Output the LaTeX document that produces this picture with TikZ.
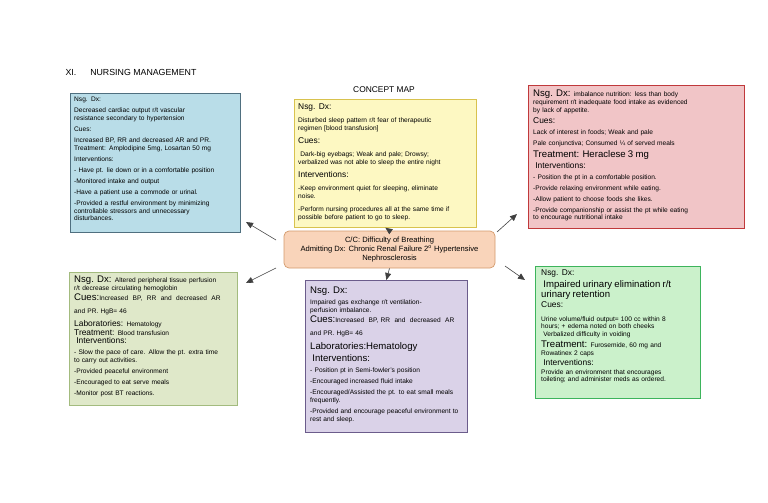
\documentclass[tikz,border=0pt]{standalone}
\usepackage{fontspec}
\setmainfont{Liberation Sans}
\usetikzlibrary{arrows.meta}
\definecolor{bluef}{HTML}{B9DDE8}\definecolor{blued}{HTML}{4F6F7F}
\definecolor{yelf}{HTML}{FDF8C2}\definecolor{yeld}{HTML}{D8C24E}
\definecolor{redf}{HTML}{F1C5C7}\definecolor{redd}{HTML}{C0393B}
\definecolor{orf}{HTML}{F9D4BA}\definecolor{ord}{HTML}{D49A6C}
\definecolor{glf}{HTML}{DFE8C9}\definecolor{gld}{HTML}{A3BB7E}
\definecolor{puf}{HTML}{DAD2E8}\definecolor{pud}{HTML}{6B5C8B}
\definecolor{grf}{HTML}{CBF1CB}\definecolor{grd}{HTML}{3DB45C}
\newcommand{\sm}{\fontsize{6.6}{7.8}\selectfont}
\newcommand{\hd}{\fontsize{8.4}{7.8}\selectfont}
\newcommand{\hb}{\fontsize{9.6}{7.8}\selectfont}
\newcommand{\ps}{\\[3.2pt]}
\newcommand{\py}{\\[5.2pt]}
\tikzset{x=1pt,y=-1pt,
 box/.style={draw=#1d,fill=#1f,line width=0.7pt,anchor=north west,inner sep=0pt},
 txt/.style={anchor=north west,align=left,inner sep=0pt,font=\sm},
 arr/.style={-{Triangle[length=7pt,width=6pt]},line width=0.6pt,black!75}}
\begin{document}
\begin{tikzpicture}
\useasboundingbox (0,0) rectangle (768,503);
\node[anchor=west,font=\fontsize{8.8}{9}\selectfont] (title) at (62,72) {XI.\hspace{14pt}NURSING MANAGEMENT};
\node[font=\fontsize{8.4}{9}\selectfont] (cm) at (384,90) {CONCEPT MAP};
% blue
\node[box=blue,minimum width=170pt,minimum height=139pt] (b1) at (70,93) {};
\node[txt,text width=167pt] (t1) at (74,97) {Nsg. Dx:\ps
Decreased cardiac output r/t vascular\\ resistance secondary to hypertension\ps
Cues:\ps
Increased BP, RR and decreased AR and PR.\\
Treatment: Amplodipine 5mg, Losartan 50 mg\ps
Interventions:\ps
- Have pt. lie down or in a comfortable position\ps
-Monitored intake and output\ps
-Have a patient use a commode or urinal.\ps
-Provided a restful environment by minimizing\\ controllable stressors and unnecessary\\ disturbances.};
% yellow
\node[box=yel,minimum width=182pt,minimum height=128pt] (b2) at (294,99) {};
\node[txt,text width=180pt] (t2) at (298,104) {{\hd Nsg. Dx:}\py
Disturbed sleep pattern r/t fear of therapeutic\\ regimen [blood transfusion]\py
{\hd Cues:}\py
\ Dark-big eyebags; Weak and pale; Drowsy;\\ verbalized was not able to sleep the entire night\py
{\hd Interventions:}\py
-Keep environment quiet for sleeping, eliminate\\ noise.\py
-Perform nursing procedures all at the same time if\\ possible before patient to go to sleep.};
% red
\node[box=red,minimum width=216pt,minimum height=143pt] (b3) at (528,85) {};
\node[txt,text width=214pt] (t3) at (533,90) {{\hb Nsg. Dx:} imbalance nutrition: less than body\\ requirement r/t inadequate food intake as evidenced\\ by lack of appetite.\ps
{\hd Cues:}\ps
Lack of interest in foods; Weak and pale\ps
Pale conjunctiva; Consumed \textonequarter\ of served meals\ps
{\hb Treatment: Heraclese 3 mg}\\[1pt]
{\hd\ Interventions:}\ps
- Position the pt in a comfortable position.\ps
-Provide relaxing environment while eating.\ps
-Allow patient to choose foods she likes.\ps
-Provide companionship or assist the pt while eating\\ to encourage nutritional intake};
% center
\node[draw=ord,fill=orf,line width=0.7pt,rounded corners=5pt,minimum width=211pt,minimum height=37pt,align=center,font=\fontsize{7.6}{8.8}\selectfont] (c) at (389.5,249.5) {C/C: Difficulty of Breathing\\Admitting Dx: Chronic Renal Failure 2\textsuperscript{o} Hypertensive\\Nephrosclerosis};
% green left
\node[box=gl,minimum width=168pt,minimum height=133pt] (b4) at (69,272) {};
\node[txt,text width=166pt] (t4) at (74,276) {{\hb Nsg. Dx:} Altered peripheral tissue perfusion\\ r/t decrease circulating hemoglobin\\[1pt]
{\hb Cues:}Increased\ \ BP,\ \ RR\ \ and\ \ decreased\ \ AR\\[5pt]
and PR. HgB= 46\\[5pt]
{\hd Laboratories:} Hematology\\[1pt]
{\hd Treatment:} Blood transfusion\\[1pt]
{\hd\ Interventions:}\ps
- Slow the pace of care. Allow the pt. extra time\\ to carry out activities.\ps
-Provided peaceful environment\ps
-Encouraged to eat serve meals\ps
-Monitor post BT reactions.};
% purple
\node[box=pu,minimum width=162pt,minimum height=152pt] (b5) at (305,280) {};
\node[txt,text width=160pt] (t5) at (310,287) {{\hb Nsg. Dx:}\ps
Impaired gas exchange r/t ventilation-\\ perfusion imbalance.\\[1pt]
{\hb Cues:}Increased\ \ BP, RR\ \ and\ \ decreased\ \ AR\\[5pt]
and PR. HgB= 46\\[5pt]
{\hb Laboratories:Hematology}\\[2pt]
{\hb\ Interventions:}\ps
- Position pt in Semi-fowler's position\ps
-Encouraged increased fluid intake\ps
-Encouraged/Assisted the pt. to eat small meals\\ frequently.\ps
-Provided and encourage peaceful environment to\\ rest and sleep.};
% green right
\node[box=gr,minimum width=165pt,minimum height=132pt] (b6) at (535,266) {};
\node[txt,text width=163pt] (t6) at (541,270) {{\hd Nsg. Dx:}\\[1pt]
{\fontsize{9.6}{10.5}\selectfont\ Impaired urinary elimination r/t\\ urinary retention}\\[1pt]
{\hd Cues:}\\[6pt]
Urine volume/fluid output= 100 cc within 8\\ hours; + edema noted on both cheeks\\
\ Verbalized difficulty in voiding\\[2pt]
{\hb Treatment:} Furosemide, 60 mg and\\ Rowatinex 2 caps\\[2pt]
{\hd\ Interventions:}\\[1pt]
Provide an environment that encourages\\ toileting; and administer meds as ordered.};
% arrows
\coordinate (a1) at (246,222); \coordinate (a3) at (517,214);
\coordinate (a4) at (246,283); \coordinate (a6) at (525,280);
\coordinate (s1) at (276,240); \coordinate (s3) at (497,232);
\coordinate (s4) at (276,268); \coordinate (s6) at (505,266);
\draw[arr] (s1) -- (a1);
\draw[arr] (c.north) -- (b2.south);
\draw[arr] (s3) -- (a3);
\draw[arr] (s4) -- (a4);
\draw[arr] (c.south) -- (b5.north);
\draw[arr] (s6) -- (a6);
\end{tikzpicture}
\end{document}
